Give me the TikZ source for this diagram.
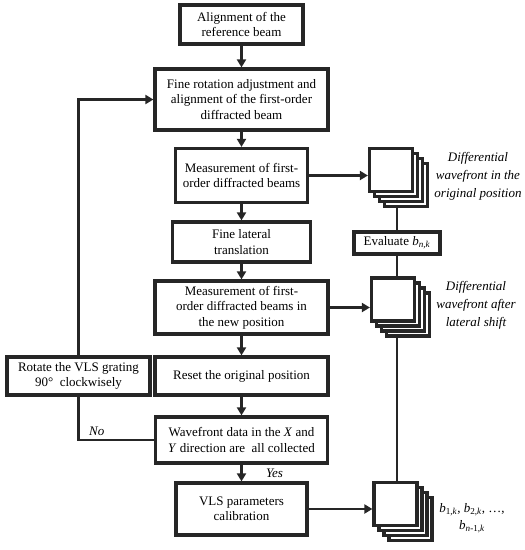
\documentclass[tikz,border=0pt]{standalone}
\usepackage{fontspec}
\setmainfont{Liberation Serif}
\usetikzlibrary{arrows.meta}
\usetikzlibrary{calc}
\usetikzlibrary{positioning}

\begin{document}
\begin{tikzpicture}[x=1pt, y=-1pt, font=\fontsize{13}{15.5}\selectfont]
	\useasboundingbox (0,0) rectangle (525,550);

	\begin{scope}[every node/.style={draw=black!85, line width=3.2pt, align=center, inner sep=1pt}]
		\node[minimum width=123pt, minimum height=39pt] (align) at (241.5,24.5) {Alignment of the\\reference beam};
		\node[minimum width=173pt, minimum height=61pt] (rotadj) at (241.5,99.5) {Fine rotation adjustment and\\alignment of the first-order\\diffracted beam};
		\node[minimum width=132pt, minimum height=54pt] (meas1) at (241.5,175.5) {Measurement of first-\\order diffracted beams};
		\node[minimum width=138pt, minimum height=40pt] (lateral) at (241.5,242) {Fine lateral\\translation};
		\node[minimum width=173pt, minimum height=53pt] (meas2) at (241.5,307.5) {Measurement of first-\\order diffracted beams in\\the new position};
		\node[minimum width=173pt, minimum height=38pt] (reset) at (241.5,376) {Reset the original position};
		\node[minimum width=143pt, minimum height=38pt] (rotvls) at (78.5,376) {Rotate the VLS grating\\90°~~clockwisely};
		\node[minimum width=172pt, minimum height=46pt] (collect) at (241.5,440) {Wavefront data in the \textit{X} and\\\textit{Y} direction are~ all collected};
		\node[minimum width=131pt, minimum height=52pt] (vls) at (241.5,509) {VLS parameters\\calibration};
		\node[minimum width=86pt, minimum height=22pt] (evaluate) at (397,243) {Evaluate \textit{b}\textsubscript{\textit{n,k}}};
	\end{scope}

	% stacks of wavefront maps
	\begin{scope}[every node/.style={draw=black!85, line width=3.2pt, fill=white, minimum size=43pt, inner sep=0pt}]
		\foreach \d in {15,10,5,0} {
			\node[xshift=\d pt, yshift=-\d pt] (orig\d) at (391,170) {};
			\node[xshift=\d pt, yshift=-\d pt] (shift\d) at (393,299.5) {};
			\node[xshift=\d pt, yshift=-\d pt] (coef\d) at (395.5,504) {};
		}
	\end{scope}

	\begin{scope}[font=\itshape\fontsize{13}{18}\selectfont, align=center]
		\node (origlabel) at (478,176) {Differential\\wavefront in the\\original position};
		\node (shiftlabel) at (476,305) {Differential\\wavefront after\\lateral shift};
		\node[font=\fontsize{13}{17}\selectfont] (coeflabel) at (472,518) {\textit{b}\textsubscript{1,\textit{k}}, \textit{b}\textsubscript{2,\textit{k}}, \dots,\\\textit{b}\textsubscript{\textit{n}-1,\textit{k}}};
	\end{scope}

	\begin{scope}[>={Triangle[length=8pt, width=9pt]},
	              every edge/.style={draw=black!85, line width=2.6pt}]
		\path (align) edge[->] (rotadj);
		\path (rotadj) edge[->] (meas1);
		\path (meas1) edge[->] (lateral);
		\path (lateral) edge[->] (meas2);
		\path (meas2) edge[->] (reset);
		\path (reset) edge[->] (collect);
		\path (collect) edge[->] node[right=20pt, font=\itshape\fontsize{13}{15}\selectfont]{Yes} (vls);
		\path (meas1.east) edge[->] (orig0.west |- meas1.east);
		\path (meas2.east) edge[->] (shift0.west |- meas2.east);
		\path (vls.east) edge[->] (coef0.west |- vls.east);
		\path (evaluate.north |- orig15.south) edge (evaluate.north);
		\path (evaluate.south) edge (evaluate.south |- shift0.north);
		\path (evaluate.south |- shift15.south) edge (evaluate.south |- coef0.north);
	\end{scope}

	\draw[draw=black!85, line width=2.6pt] (collect.west) -| node[pos=0.5, anchor=south west, xshift=6pt, font=\itshape\fontsize{13}{15}\selectfont]{No} (rotvls.south);
	\draw[draw=black!85, line width=2.6pt, -{Triangle[length=8pt, width=9pt]}] (rotvls.north) |- (rotadj.west);
\end{tikzpicture}
\end{document}
